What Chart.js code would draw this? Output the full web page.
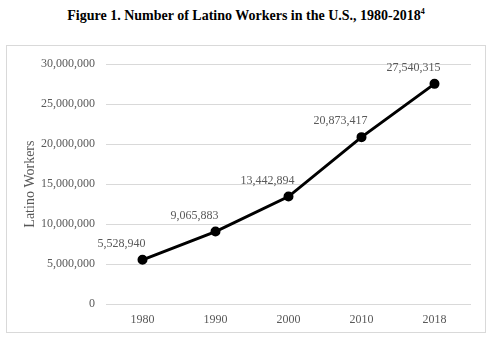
<!DOCTYPE html>
<html><head><meta charset="utf-8">
<script src="https://cdn.jsdelivr.net/npm/chart.js@4/dist/chart.umd.min.js"></script>
<style>
html,body{margin:0;padding:0;background:#fff;}
#title{position:absolute;left:0;top:8px;width:492px;text-align:center;font-family:"Liberation Serif","Times New Roman",serif;font-weight:bold;font-size:14px;color:#000;}
#title sup{font-size:8px;vertical-align:6px;line-height:0;}
#box{position:absolute;left:6px;top:45px;width:478px;height:286px;border:1px solid #d9d9d9;}
</style></head>
<body>
<div id="title">Figure 1. Number of Latino Workers in the U.S., 1980-2018<sup>4</sup></div>
<div id="box"><canvas id="c" width="478" height="286"></canvas></div>
<script>
const years = ['1980','1990','2000','2010','2018'];
const workers = [5528940, 9065883, 13442894, 20873417, 27540315];
const yTicks = [0,5000000,10000000,15000000,20000000,25000000,30000000];

const FONT = '"Liberation Serif","Times New Roman",serif';
const GRAY = '#595959';

const labelPlugin = {
  id:'dataLabels',
  afterDatasetsDraw(chart){
    const ctx = chart.ctx;
    const meta = chart.getDatasetMeta(0);
    ctx.save();
    ctx.font = '12px ' + FONT;
    ctx.fillStyle = GRAY;
    ctx.textAlign = 'center';
    ctx.textBaseline = 'middle';
    meta.data.forEach((pt,i)=>{
      ctx.fillText(workers[i].toLocaleString('en-US'), pt.x - 21, pt.y - 16);
    });
    ctx.restore();
  }
};

new Chart(document.getElementById('c'), {
  type:'line',
  data:{labels:years, datasets:[{
    data:workers, borderColor:'#000', backgroundColor:'#000', borderWidth:3,
    pointRadius:3.5, pointHoverRadius:3.5, pointBackgroundColor:'#000', pointBorderColor:'#000', tension:0
  }]},
  options:{
    responsive:false, animation:false, devicePixelRatio:1,
    layout:{padding:{left:15,right:14,top:12,bottom:0}},
    plugins:{legend:{display:false}, tooltip:{enabled:false}},
    scales:{
      x:{
        offset:true,
        grid:{display:false, drawTicks:false},
        border:{display:false},
        ticks:{font:{family:FONT,size:12}, color:GRAY, padding:9},
        afterFit(s){s.height = 28;}
      },
      y:{
        min:0, max:30000000,
        afterBuildTicks(s){s.ticks = yTicks.map(v=>({value:v}));},
        grid:{color:'#d9d9d9', drawTicks:false, lineWidth:1},
        border:{display:false},
        ticks:{font:{family:FONT,size:12}, color:GRAY, padding:11,
          callback:v=>v.toLocaleString('en-US')},
        title:{display:true, text:'Latino Workers', font:{family:FONT,size:14}, color:GRAY, padding:{top:0,bottom:2}},
        afterFit(s){s.width = 84;}
      }
    }
  },
  plugins:[labelPlugin]
});
</script>
</body></html>
